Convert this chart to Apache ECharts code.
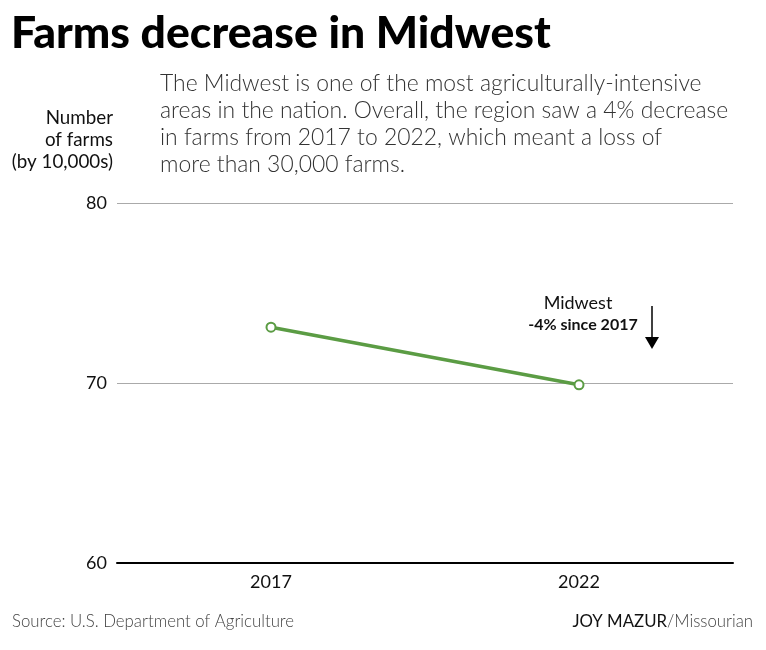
<!DOCTYPE html>
<html><head><meta charset="utf-8">
<script src="https://cdn.jsdelivr.net/npm/echarts@6/dist/echarts.min.js"></script>
<style>html,body{margin:0;padding:0;background:#fff}#c{width:766px;height:650px}</style>
</head><body><div id="c"></div>
<script>
const categories = ['2017', '2022'];
const farms = [73.1, 69.9];
const yTicks = [60, 70, 80];

const chart = echarts.init(document.getElementById('c'));
const F = 'Lato';
chart.setOption({
  animation: false,
  backgroundColor: '#fff',
  grid: { left: 117, right: 33, top: 203, bottom: 87 },
  xAxis: {
    type: 'category', data: categories, boundaryGap: true,
    axisLine: { show: true, lineStyle: { color: '#000', width: 2 } },
    axisTick: { show: false },
    axisLabel: { fontFamily: F, fontSize: 18, color: '#111', margin: 10 }
  },
  yAxis: {
    type: 'value', min: yTicks[0], max: yTicks[yTicks.length - 1], interval: 10,
    axisLine: { show: false }, axisTick: { show: false },
    axisLabel: { fontFamily: F, fontSize: 18, color: '#111', margin: 10 },
    splitLine: { lineStyle: { color: '#aaa', width: 1 } }
  },
  series: [{
    type: 'line', data: farms,
    lineStyle: { color: '#5b9c44', width: 3.5 },
    itemStyle: { color: '#fff', borderColor: '#5b9c44', borderWidth: 2 },
    symbol: 'circle', symbolSize: 9,
    z: 5
  }],
  graphic: [
    { type: 'text', left: 11, top: 11, style: { text: 'Farms decrease in Midwest', font: '900 44.5px Lato', fill: '#000' } },
    { type: 'text', left: 160, top: 70, style: {
      text: 'The Midwest is one of the most agriculturally-intensive\nareas in the nation. Overall, the region saw a 4% decrease\nin farms from 2017 to 2022, which meant a loss of\nmore than 30,000 farms.',
      font: '300 22.9px Lato', fill: '#333', lineHeight: 27 } },
    { type: 'text', x: 113, y: 107, style: {
      text: 'Number\nof farms\n(by 10,000s)', font: '400 18.8px Lato', fill: '#111', lineHeight: 22, align: 'right', verticalAlign: 'top' } },
    { type: 'text', x: 578, y: 303, style: { text: 'Midwest', font: '400 18px Lato', fill: '#111', align: 'center', verticalAlign: 'middle' } },
    { type: 'text', x: 583, y: 325, style: { text: '-4% since 2017', font: '700 16px Lato', fill: '#111', align: 'center', verticalAlign: 'middle' } },
    { type: 'line', shape: { x1: 652, y1: 306, x2: 652, y2: 344 }, style: { stroke: '#000', lineWidth: 1.5 } },
    { type: 'polygon', shape: { points: [[645, 337], [659, 337], [652, 349]] }, style: { fill: '#000' } },
    { type: 'text', left: 12, top: 613, style: { text: 'Source: U.S. Department of Agriculture', font: '300 16.8px Lato', fill: '#444' } },
    { type: 'text', right: 13, top: 613, style: {
      text: '{a|JOY MAZUR}{b|/Missourian}',
      rich: { a: { font: '400 16.8px Lato', fill: '#111' }, b: { font: '300 16.8px Lato', fill: '#444' } } } }
  ]
});
</script></body></html>
